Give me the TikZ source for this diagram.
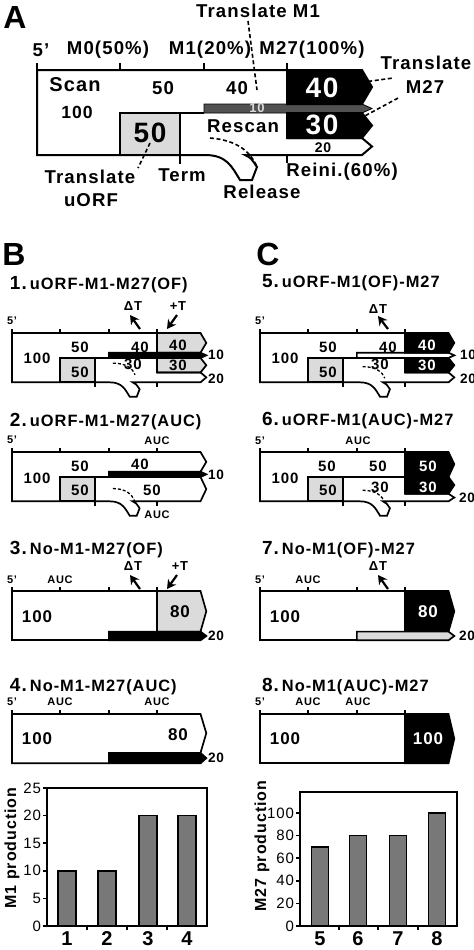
\documentclass[tikz,border=0pt]{standalone}
\usepackage{fontspec}
\setmainfont{Liberation Sans}[LetterSpace=6]
\usetikzlibrary{arrows.meta}
\newcommand\myfs[1]{\fontsize{#1}{#1}\selectfont}
\definecolor{lgray}{gray}{0.86}
\definecolor{dgray}{gray}{0.32}
\definecolor{bargray}{gray}{0.47}
\begin{document}
\begin{tikzpicture}[x=0.5pt,y=-0.5pt,line join=miter,
  every node/.style={inner sep=0pt,outer sep=0pt,font=\bfseries},
  ol/.style={line width=1pt},
  bl/.style={line width=0.85pt},
  dsh/.style={line width=0.8pt,dash pattern=on 2pt off 1.3pt},
  dshs/.style={line width=0.65pt,dash pattern=on 1.5pt off 1pt},
  tarr/.style={line width=1.1pt,-{Stealth[length=4.5pt,width=5pt]}},
  la/.style={font=\bfseries\myfs{9.3}},
  nb/.style={font=\bfseries\myfs{7.5}},
  nw/.style={font=\bfseries\myfs{7.5},text=white},
  nbig/.style={font=\bfseries\myfs{8.5}},
  sm/.style={font=\bfseries\myfs{5.5}},
  dt/.style={font=\bfseries\myfs{6.5}},
  ten/.style={font=\bfseries\myfs{6.8}},
  ttl/.style={anchor=west,font=\bfseries\myfs{8.2}},
  ytk/.style={font=\myfs{7.5},anchor=east},
  xl/.style={font=\bfseries\myfs{10}},
  yl/.style={font=\bfseries\myfs{8},rotate=90}
]
\useasboundingbox (0,0) rectangle (474,950);
\fill[white] (0,0) rectangle (474,950);

%================ PANEL A =================
\begin{scope}[shift={(37,70)}]
  \filldraw[fill=lgray,ol] (83,43) rectangle (143,85);
  \draw[ol] (83,43) -- (167,43);
  \filldraw[fill=dgray,draw=black,line width=0.4pt] (167,34) -- (325,34) -- (335,38.5) -- (325,43) -- (167,43) -- cycle;
  \filldraw[ol] (250,0) -- (325,0) -- (335,17) -- (325,34) -- (250,34) -- cycle;
  \filldraw[ol] (250,43) -- (325,43) -- (335,55.5) -- (325,68) -- (250,68) -- cycle;
  \draw[ol] (250,68) -- (325,68) -- (335,76.5) -- (325,85) -- (208,85) .. controls (214,88) .. (220,97) -- (215,110) -- (203,110) .. controls (195,97) and (190,85) .. (168,85) -- (0,85) -- (0,0) -- (250,0);
  \foreach \t in {0,83,167,250} \draw[ol] (\t,0) -- (\t,-7);
  \draw[ol] (143,85) -- (143,94);
  \draw[ol] (250,85) -- (250,93);
\end{scope}
\node[font=\bfseries\myfs{16}] (lA) at (15,17) {A};
\node[la] (tm1) at (258,11) {Translate M1};
\coordinate (tm1s) at (248,21);
\coordinate (tm1e) at (257,90);
\draw[dsh] (tm1s) -- (tm1e);
\node[la] (p5A) at (41,50) {5'};
\node[la] (m0) at (108,50) {M0(50\%)};
\node[la] (m1) at (210,50) {M1(20\%)};
\node[la] (m27) at (312,50) {M27(100\%)};
\node[font=\bfseries\myfs{10}] (scan) at (75,85) {Scan};
\node[font=\bfseries\myfs{8.8}] (a100) at (77,112) {100};
\node[la] (a50) at (163,88) {50};
\node[la] (a40) at (237,88) {40};
\node[font=\bfseries\myfs{14},text=white] (a40w) at (322,88) {40};
\node[font=\bfseries\myfs{14},text=white] (a30w) at (322,125) {30};
\node[font=\bfseries\myfs{6.5},text=lgray] (a10) at (257,108) {10};
\node[la] (resc) at (243,126) {Rescan};
\node[font=\bfseries\myfs{14}] (u50) at (150,133) {50};
\node[font=\bfseries\myfs{7}] (a20) at (323,148) {20};
\node[la] (tr27) at (426,63) {Translate};
\node[la] (m27b) at (425,87) {M27};
\coordinate (d1s) at (342,85); \coordinate (d1e) at (393,78);
\coordinate (d2s) at (348,125); \coordinate (d2e) at (400,97);
\draw[dsh] (d1s) -- (d1e);
\draw[dsh] (d2s) -- (d2e);
\node[la] (tu1) at (90,177) {Translate};
\node[la] (tu2) at (91,200) {uORF};
\coordinate (du1) at (150,143); \coordinate (du2) at (138,168);
\draw[dsh] (du1) -- (du2);
\node[la] (term) at (182,175) {Term};
\node[la] (rel) at (262,192) {Release};
\node[la] (rei) at (342,172) {Reini.(60\%)};
\coordinate (rl1) at (210,138); \coordinate (rl2) at (257,167);
\draw[dsh] (rl1) .. controls (235,140) and (250,150) .. (rl2);

%================ LETTERS =================
\node[font=\bfseries\myfs{16}] (lB) at (14,254) {B};
\node[font=\bfseries\myfs{16}] (lC) at (268,254) {C};

%================ PANEL 1 =================
\node[ttl] (t1) at (10,285) {{\myfs{9.5}1.}\hspace{1.5pt}uORF-M1-M27(OF)};
\begin{scope}[shift={(12,333)},scale=0.58]
  \filldraw[fill=lgray,bl] (83,43) rectangle (143,85);
  \draw[bl] (83,43) -- (167,43);
  \filldraw[fill=lgray,bl] (250,0) -- (325,0) -- (335,17) -- (325,34) -- (250,34) -- cycle;
  \filldraw[fill=lgray,bl] (250,43) -- (325,43) -- (335,55.5) -- (325,68) -- (250,68) -- cycle;
  \filldraw[bl] (167,34) -- (325,34) -- (335,38.5) -- (325,43) -- (167,43) -- cycle;
  \draw[bl] (250,68) -- (325,68) -- (335,76.5) -- (325,85) -- (208,85) .. controls (214,88) .. (220,97) -- (215,110) -- (203,110) .. controls (195,97) and (190,85) .. (168,85) -- (0,85) -- (0,0) -- (250,0);
  \foreach \t in {0,83,167,250} \draw[bl] (\t,0) -- (\t,-7);
  \draw[bl] (143,85) -- (143,93);
  \draw[bl] (250,85) -- (250,93);
  \draw[dshs] (174,52) .. controls (195,52) and (208,60) .. (212,72);
\end{scope}
\node[sm] (p1a) at (12,321) {5'};
\node[dt] (p1dt) at (133,306) {ΔT};
\node[dt] (p1pt) at (178,306) {+T};
\coordinate (p1a1) at (140,329); \coordinate (p1a2) at (130,315);
\coordinate (p1b1) at (177,315); \coordinate (p1b2) at (167,329);
\draw[tarr] (p1a1) -- (p1a2);
\draw[tarr] (p1b1) -- (p1b2);
\node[nb] (p1n1) at (80,347) {50};
\node[nb] (p1n2) at (140,347) {40};
\node[nb] (p1n3) at (178,345) {40};
\node[nb] (p1n4) at (37,358) {100};
\node[nb] (p1n5) at (80,372) {50};
\node[nb] (p1n6) at (133,364) {30};
\node[nb] (p1n7) at (178,365) {30};
\node[ten] (p1n8) at (216,355) {10};
\node[ten] (p1n9) at (216,379) {20};

%================ PANEL 2 =================
\node[ttl] (t2) at (10,422) {{\myfs{9.5}2.}\hspace{1.5pt}uORF-M1-M27(AUC)};
\begin{scope}[shift={(12,452)},scale=0.58]
  \filldraw[fill=lgray,bl] (83,43) rectangle (143,85);
  \draw[bl] (83,43) -- (167,43);
  \filldraw[bl] (167,34) -- (325,34) -- (335,38.5) -- (325,43) -- (167,43) -- cycle;
  \draw[bl] (0,0) -- (325,0) -- (335,17) -- (325,34);
  \draw[bl] (325,43) -- (335,64) -- (325,85) -- (208,85) .. controls (214,88) .. (220,97) -- (215,110) -- (203,110) .. controls (195,97) and (190,85) .. (168,85) -- (0,85) -- (0,0);
  \foreach \t in {0,83,167,250} \draw[bl] (\t,0) -- (\t,-7);
  \draw[bl] (143,85) -- (143,93);
  \draw[bl] (250,85) -- (250,93);
  \draw[dshs] (174,63) .. controls (195,63) and (208,72) .. (212,87);
\end{scope}
\node[sm] (p2a) at (12,440) {5'};
\node[sm] (p2b) at (157,441) {AUC};
\node[nb] (p2n1) at (80,466) {50};
\node[nb] (p2n2) at (140,464) {40};
\node[nb] (p2n3) at (37,478) {100};
\node[nb] (p2n4) at (80,490) {50};
\node[nb] (p2n5) at (152,490) {50};
\node[ten] (p2n6) at (216,475) {10};
\node[sm] (p2c) at (157,515) {AUC};

%================ PANEL 3 =================
\node[ttl] (t3) at (10,550) {{\myfs{9.5}3.}\hspace{1.5pt}No-M1-M27(OF)};
\begin{scope}[shift={(12,591)},scale=0.58]
  \filldraw[fill=lgray,bl] (250,0) -- (325,0) -- (335,35) -- (325,70) -- (250,70) -- cycle;
  \filldraw[bl] (167,70) -- (325,70) -- (335,77.5) -- (325,85) -- (167,85) -- cycle;
  \draw[bl] (250,0) -- (0,0) -- (0,85) -- (167,85);
  \foreach \t in {0,83,167,250} \draw[bl] (\t,0) -- (\t,-7);
\end{scope}
\node[sm] (p3a) at (12,580) {5'};
\node[sm] (p3b) at (60,580) {AUC};
\node[dt] (p3dt) at (133,566) {ΔT};
\node[dt] (p3pt) at (180,566) {+T};
\coordinate (p3a1) at (140,589); \coordinate (p3a2) at (130,575);
\coordinate (p3b1) at (177,575); \coordinate (p3b2) at (167,589);
\draw[tarr] (p3a1) -- (p3a2);
\draw[tarr] (p3b1) -- (p3b2);
\node[nbig] (p3n1) at (37,617) {100};
\node[nbig] (p3n2) at (180,612) {80};
\node[ten] (p3n3) at (216,636) {20};

%================ PANEL 4 =================
\node[ttl] (t4) at (10,687) {{\myfs{9.5}4.}\hspace{1.5pt}No-M1-M27(AUC)};
\begin{scope}[shift={(12,714)},scale=0.58]
  \filldraw[bl] (167,67) -- (325,67) -- (335,76) -- (325,85) -- (167,85) -- cycle;
  \draw[bl] (325,67) -- (335,33) -- (325,0) -- (0,0) -- (0,85) -- (167,85);
  \foreach \t in {0,83,167,250} \draw[bl] (\t,0) -- (\t,-7);
\end{scope}
\node[sm] (p4a) at (12,702) {5'};
\node[sm] (p4b) at (60,702) {AUC};
\node[sm] (p4c) at (157,702) {AUC};
\node[nbig] (p4n1) at (37,739) {100};
\node[nbig] (p4n2) at (178,735) {80};
\node[ten] (p4n3) at (216,758) {20};

%================ PANEL 5 =================
\node[ttl] (t5) at (262,283) {{\myfs{9.5}5.}\hspace{1.5pt}uORF-M1(OF)-M27};
\begin{scope}[shift={(260,333)},scale=0.58]
  \filldraw[fill=lgray,bl] (83,43) rectangle (143,85);
  \draw[bl] (83,43) -- (167,43);
  \filldraw[fill=white,bl] (167,34) -- (325,34) -- (335,38.5) -- (325,43) -- (167,43) -- cycle;
  \filldraw[bl] (250,0) -- (325,0) -- (335,17) -- (325,34) -- (250,34) -- cycle;
  \filldraw[bl] (250,43) -- (325,43) -- (335,55.5) -- (325,68) -- (250,68) -- cycle;
  \draw[bl] (250,68) -- (325,68) -- (335,76.5) -- (325,85) -- (212,85) .. controls (218,88) .. (224,97) -- (219,110) -- (207,110) .. controls (199,97) and (194,85) .. (172,85) -- (0,85) -- (0,0) -- (250,0);
  \foreach \t in {0,83,167,250} \draw[bl] (\t,0) -- (\t,-7);
  \draw[bl] (143,85) -- (143,93);
  \draw[bl] (250,85) -- (250,93);
  \draw[dshs] (177,58) .. controls (198,58) and (211,66) .. (215,78);
\end{scope}
\node[sm] (p5a) at (260,321) {5'};
\node[dt] (p5dt) at (378,309) {ΔT};
\coordinate (p5a1) at (388,329); \coordinate (p5a2) at (378,316);
\draw[tarr] (p5a1) -- (p5a2);
\node[nb] (p5n1) at (328,347) {50};
\node[nb] (p5n2) at (388,347) {40};
\node[nw] (p5n3) at (427,345) {40};
\node[nb] (p5n4) at (285,358) {100};
\node[nb] (p5n5) at (328,372) {50};
\node[nb] (p5n6) at (380,364) {30};
\node[nw] (p5n7) at (427,365) {30};
\node[ten] (p5n8) at (468,355) {10};
\node[ten] (p5n9) at (468,379) {20};

%================ PANEL 6 =================
\node[ttl] (t6) at (262,421) {{\myfs{9.5}6.}\hspace{1.5pt}uORF-M1(AUC)-M27};
\begin{scope}[shift={(260,452)},scale=0.58]
  \filldraw[fill=lgray,bl] (83,43) rectangle (143,85);
  \draw[bl] (83,43) -- (250,43);
  \filldraw[bl] (250,0) -- (325,0) -- (335,21) -- (325,43) -- (335,57) -- (325,72) -- (250,72) -- cycle;
  \draw[bl] (250,72) -- (325,72) -- (335,78.5) -- (325,85) -- (212,85) .. controls (218,88) .. (224,97) -- (219,110) -- (207,110) .. controls (199,97) and (194,85) .. (172,85) -- (0,85) -- (0,0) -- (250,0);
  \foreach \t in {0,83,167,250} \draw[bl] (\t,0) -- (\t,-7);
  \draw[bl] (143,85) -- (143,93);
  \draw[bl] (250,85) -- (250,93);
  \draw[dshs] (177,66) .. controls (198,66) and (211,74) .. (215,88);
\end{scope}
\node[sm] (p6a) at (260,441) {5'};
\node[sm] (p6b) at (358,441) {AUC};
\node[nb] (p6n1) at (327,466) {50};
\node[nb] (p6n2) at (378,466) {50};
\node[nb] (p6n3) at (285,478) {100};
\node[nb] (p6n4) at (328,490) {50};
\node[nb] (p6n5) at (380,487) {30};
\node[nw] (p6n6) at (428,466) {50};
\node[nw] (p6n7) at (428,487) {30};
\node[ten] (p6n8) at (467,498) {20};

%================ PANEL 7 =================
\node[ttl] (t7) at (262,550) {{\myfs{9.5}7.}\hspace{1.5pt}No-M1(OF)-M27};
\begin{scope}[shift={(260,591)},scale=0.58]
  \filldraw[bl] (250,0) -- (325,0) -- (335,35) -- (325,70) -- (250,70) -- cycle;
  \filldraw[fill=lgray,bl] (167,70) -- (325,70) -- (335,77.5) -- (325,85) -- (167,85) -- cycle;
  \draw[bl] (250,0) -- (0,0) -- (0,85) -- (167,85);
  \foreach \t in {0,83,167,250} \draw[bl] (\t,0) -- (\t,-7);
\end{scope}
\node[sm] (p7a) at (260,580) {5'};
\node[sm] (p7b) at (308,580) {AUC};
\node[dt] (p7dt) at (378,566) {ΔT};
\coordinate (p7a1) at (388,589); \coordinate (p7a2) at (378,575);
\draw[tarr] (p7a1) -- (p7a2);
\node[nbig] (p7n1) at (285,617) {100};
\node[font=\bfseries\myfs{8.5},text=white] (p7n2) at (428,612) {80};
\node[ten] (p7n3) at (467,636) {20};

%================ PANEL 8 =================
\node[ttl] (t8) at (262,687) {{\myfs{9.5}8.}\hspace{1.5pt}No-M1(AUC)-M27};
\begin{scope}[shift={(260,714)},scale=0.58]
  \filldraw[bl] (250,0) -- (325,0) -- (335,42.5) -- (325,85) -- (250,85) -- cycle;
  \draw[bl] (250,0) -- (0,0) -- (0,85) -- (250,85);
  \foreach \t in {0,83,167,250} \draw[bl] (\t,0) -- (\t,-7);
\end{scope}
\node[sm] (p8a) at (260,702) {5'};
\node[sm] (p8b) at (308,702) {AUC};
\node[sm] (p8c) at (358,702) {AUC};
\node[nbig] (p8n1) at (285,739) {100};
\node[font=\bfseries\myfs{8.5},text=white] (p8n2) at (428,739) {100};

%================ CHART B =================
\draw[bl] (47,788) rectangle (207,926);
\foreach \v in {0,5,10,15,20,25} {
  \draw[bl] (43,{926-5.52*\v}) -- (47,{926-5.52*\v});
  \node[ytk] (yb\v) at (41,{926-5.52*\v}) {\v};
}
\foreach \x in {87,127,167} \draw[bl] (\x,926) -- (\x,930);
\filldraw[fill=bargray,bl] (58,926) rectangle (76,870.8);
\filldraw[fill=bargray,bl] (98,926) rectangle (116,870.8);
\filldraw[fill=bargray,bl] (139,926) rectangle (157,815.6);
\filldraw[fill=bargray,bl] (178,926) rectangle (196,815.6);
\node[xl] (xb1) at (67,939) {1};
\node[xl] (xb2) at (107,939) {2};
\node[xl] (xb3) at (148,939) {3};
\node[xl] (xb4) at (187,939) {4};
\node[yl] (ylb) at (12,848) {M1 production};

%================ CHART C =================
\draw[bl] (300,792) rectangle (457,926);
\foreach \v in {0,20,40,60,80,100} {
  \draw[bl] (296,{926-1.13*\v}) -- (300,{926-1.13*\v});
  \node[ytk] (yc\v) at (294,{926-1.13*\v}) {\v};
}
\foreach \x in {339,378,418} \draw[bl] (\x,926) -- (\x,930);
\filldraw[fill=bargray,bl] (311.5,926) rectangle (328.5,846.9);
\filldraw[fill=bargray,bl] (349.5,926) rectangle (366.5,835.6);
\filldraw[fill=bargray,bl] (389.5,926) rectangle (406.5,835.6);
\filldraw[fill=bargray,bl] (428.5,926) rectangle (445.5,813);
\node[xl] (xc5) at (320,939) {5};
\node[xl] (xc6) at (358,939) {6};
\node[xl] (xc7) at (398,939) {7};
\node[xl] (xc8) at (437,939) {8};
\node[yl] (ylc) at (262,846) {M27 production};
\end{tikzpicture}
\end{document}
